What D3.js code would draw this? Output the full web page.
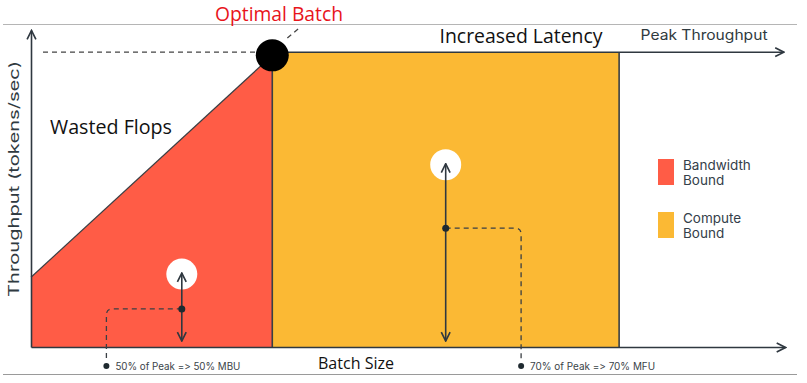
<!DOCTYPE html>
<html>
<head>
<meta charset="utf-8">
<script src="https://cdn.jsdelivr.net/npm/d3@7"></script>
<style>
  body { margin: 0; background: #fff; }
  svg { display: block; }
  text { font-feature-settings: "calt" 0, "liga" 0; font-variant-ligatures: none; }
  .axisColor path, .axisColor line { stroke: #2f3840; stroke-width: 1.6; }
</style>
</head>
<body>
<div class="d3line"></div>
<script>
// regime data (batch size 0-100, throughput 0-100)
var regimes = ["Bandwidth Bound", "Compute Bound"];
var regimeColors = ["#ff5c46", "#fbb934"];
var optimalBatch = 32;
var computeEnd = 78;
var peakThroughput = 93;
var memoryLine = [ {batch: 0, tput: 22}, {batch: 32, tput: 92} ];
var memoryLineExt = [ {batch: 34, tput: 97.5}, {batch: 35.5, tput: 100.5} ];

// utilisation markers
var markers = [
  {batch: 20, top: 23, dot: 12, note: 10, label: "50% of Peak => 50% MBU", side: -1},
  {batch: 55, top: 57.5, dot: 37.5, note: 65, label: "70% of Peak => 70% MFU", side: 1}
];

var W = 807, H = 383;

var xScale = d3.scaleLinear().domain([0, 100]).range([31, 785]);
var yScale = d3.scaleLinear().domain([0, 100]).range([347, 30]);

var svg = d3.select(".d3line").append("svg")
    .attr("width", W)
    .attr("height", H);

var defs = svg.append("defs");
defs.append("marker")
    .attr("id", "arrow")
    .attr("viewBox", "0 0 10 10")
    .attr("refX", 9).attr("refY", 5)
    .attr("markerWidth", 11).attr("markerHeight", 11)
    .attr("markerUnits", "userSpaceOnUse")
    .attr("orient", "auto-start-reverse")
  .append("path")
    .attr("d", "M1,1 L9,5 L1,9")
    .attr("fill", "none")
    .attr("stroke", "#2f3840")
    .attr("stroke-width", 1.5);

// frame lines
svg.append("line").attr("x1", 3).attr("x2", 797).attr("y1", 24.5).attr("y2", 24.5)
    .attr("stroke", "#b5b5b5").attr("stroke-width", 1);
svg.append("line").attr("x1", 3).attr("x2", 797).attr("y1", 374.5).attr("y2", 374.5)
    .attr("stroke", "#9a9a9a").attr("stroke-width", 1.2);

// bandwidth bound area
var area = d3.area()
    .x(function(d) { return xScale(d.batch); })
    .y0(yScale(0))
    .y1(function(d) { return yScale(d.tput); });

svg.append("path")
    .datum(memoryLine)
    .attr("fill", regimeColors[0])
    .attr("d", area);

svg.append("path")
    .datum(memoryLine)
    .attr("fill", "none")
    .attr("stroke", "#3a3f44")
    .attr("stroke-width", 1.2)
    .attr("d", d3.line().x(function(d) { return xScale(d.batch); }).y(function(d) { return yScale(d.tput); }));

// compute bound rect
svg.append("rect")
    .attr("x", xScale(optimalBatch))
    .attr("y", yScale(peakThroughput))
    .attr("width", xScale(computeEnd) - xScale(optimalBatch))
    .attr("height", yScale(0) - yScale(peakThroughput))
    .attr("fill", regimeColors[1]);

[optimalBatch, computeEnd].forEach(function(b) {
  svg.append("line")
      .attr("x1", xScale(b)).attr("x2", xScale(b))
      .attr("y1", yScale(peakThroughput)).attr("y2", yScale(0))
      .attr("stroke", "#3a3f44").attr("stroke-width", 1.6);
});

// peak throughput line
svg.append("line")
    .attr("x1", xScale(optimalBatch)).attr("x2", xScale(100) - 1)
    .attr("y1", yScale(peakThroughput)).attr("y2", yScale(peakThroughput))
    .attr("stroke", "#2f3840").attr("stroke-width", 1.6)
    .attr("marker-end", "url(#arrow)");

// dashed guide to y axis
svg.append("line")
    .attr("x1", 43).attr("x2", xScale(optimalBatch) - 16)
    .attr("y1", yScale(peakThroughput)).attr("y2", yScale(peakThroughput))
    .attr("stroke", "#444").attr("stroke-width", 1.3)
    .attr("stroke-dasharray", "5,4");

svg.append("path")
    .datum(memoryLineExt)
    .attr("fill", "none")
    .attr("stroke", "#444").attr("stroke-width", 1.3)
    .attr("stroke-dasharray", "5,4")
    .attr("d", d3.line().x(function(d) { return xScale(d.batch); }).y(function(d) { return yScale(d.tput); }));

// axes
var xAxis = svg.append("g")
    .attr("class", "axisColor")
    .attr("transform", "translate(0," + yScale(0) + ")")
    .call(d3.axisBottom(xScale).tickValues([]).tickSizeOuter(0));
xAxis.select(".domain").attr("marker-end", "url(#arrow)");

var yAxis = svg.append("g")
    .attr("class", "axisColor")
    .attr("transform", "translate(" + xScale(0) + ",0)")
    .call(d3.axisLeft(yScale).tickValues([]).tickSizeOuter(0));
yAxis.select(".domain").attr("marker-end", "url(#arrow)");

// optimal point
svg.append("ellipse")
    .attr("cx", xScale(optimalBatch))
    .attr("cy", yScale(memoryLine[1].tput))
    .attr("rx", 16.5).attr("ry", 16)
    .attr("fill", "#000");

// utilisation markers
markers.forEach(function(m) {
  var x = xScale(m.batch);
  var nx = xScale(m.note);
  var yd = yScale(m.dot);
  var r = 6;
  svg.append("circle")
      .attr("cx", x).attr("cy", yScale(m.top)).attr("r", 15.5)
      .attr("fill", "#fff");
  svg.append("line")
      .attr("x1", x).attr("x2", x)
      .attr("y1", yScale(m.top) - 1).attr("y2", yScale(0) - 6)
      .attr("stroke", "#2f3840").attr("stroke-width", 1.6)
      .attr("marker-start", "url(#arrow)")
      .attr("marker-end", "url(#arrow)");
  var s = m.side;
  svg.append("path")
      .attr("d", "M" + x + "," + yd + " H" + (nx - s * r) +
        " Q" + nx + "," + yd + " " + nx + "," + (yd + r) + " V" + 359)
      .attr("fill", "none")
      .attr("stroke", "#3a3f44").attr("stroke-width", 1.3)
      .attr("stroke-dasharray", "5,4");
  svg.append("circle").attr("cx", x).attr("cy", yd).attr("r", 3.5).attr("fill", "#1f2a30");
  svg.append("circle").attr("cx", nx).attr("cy", 366).attr("r", 3).attr("fill", "#1f2a30");
  svg.append("text")
      .attr("x", nx + 9).attr("y", 369.5)
      .attr("font-family", "Inter, 'Noto Sans', sans-serif")
      .attr("font-size", 10)
      .attr("fill", "#3a4348")
      .attr("textLength", 125).attr("lengthAdjust", "spacingAndGlyphs")
      .text(m.label);
});

// legend
var legend = svg.append("g").selectAll("g")
    .data(regimes)
    .enter().append("g")
    .attr("transform", function(d, i) { return "translate(658," + (159 + i * 53) + ")"; });
legend.append("rect")
    .attr("width", 16).attr("height", 26)
    .attr("fill", function(d, i) { return regimeColors[i]; });
legend.each(function(d) {
  var words = d.split(" ");
  d3.select(this).selectAll("text")
      .data(words)
      .enter().append("text")
      .attr("x", 25)
      .attr("y", function(w, j) { return 10.5 + j * 15.5; })
      .attr("font-family", "Inter, 'Noto Sans', sans-serif")
      .attr("font-size", 13.5)
      .attr("fill", "#34404a")
      .text(function(w) { return w; });
});

// labels
function label(txt, x, y, size, color, len, anchor) {
  return svg.append("text")
      .attr("x", x).attr("y", y)
      .attr("text-anchor", anchor || "middle")
      .attr("font-family", "'Open Sans', sans-serif")
      .attr("font-size", size)
      .attr("fill", color)
      .attr("textLength", len).attr("lengthAdjust", "spacingAndGlyphs")
      .text(txt);
}
label("Optimal Batch", 279, 21, 20, "#e8141b", 128);
label("Increased Latency", 521, 43, 20, "#111", 163);
label("Wasted Flops", 111, 134, 20, "#111", 122);
label("Batch Size", 356, 369, 16, "#111", 76);

svg.append("text")
    .attr("x", 704).attr("y", 40)
    .attr("text-anchor", "middle")
    .attr("font-family", "Inter, 'Noto Sans', sans-serif")
    .attr("font-size", 14)
    .attr("fill", "#2f3a40")
    .attr("textLength", 127).attr("lengthAdjust", "spacingAndGlyphs")
    .text("Peak Throughput");

svg.append("text")
    .attr("transform", "translate(19,179) rotate(-90)")
    .attr("text-anchor", "middle")
    .attr("font-family", "Inter, 'Noto Sans', sans-serif")
    .attr("font-size", 14)
    .attr("fill", "#2f3a40")
    .attr("textLength", 236).attr("lengthAdjust", "spacingAndGlyphs")
    .text("Throughput (tokens/sec)");
</script>
</body>
</html>
